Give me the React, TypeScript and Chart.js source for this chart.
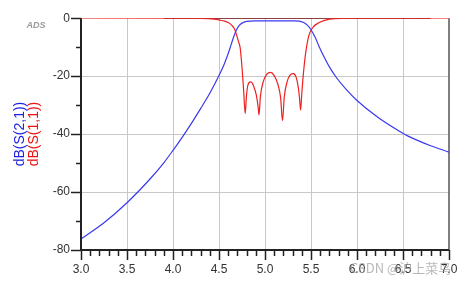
import React, { useEffect, useRef } from "react";
import { Chart, registerables } from "chart.js";

Chart.register(...registerables);

// S(1,1) in dB (red)
const s11Freq = [3.0, 4.3, 4.45, 4.5, 4.56, 4.6, 4.64, 4.67, 4.71, 4.73, 4.75, 4.768, 4.785, 4.798, 4.815, 4.845, 4.875, 4.905, 4.925, 4.935, 4.95, 4.98, 5.02, 5.06, 5.1, 5.14, 5.17, 5.19, 5.21, 5.24, 5.28, 5.31, 5.34, 5.36, 5.375, 5.387, 5.40, 5.415, 5.44, 5.475, 5.52, 5.59, 5.7, 5.85, 7.0];
const s11dB = [0, -0.05, -0.3, -0.6, -1.0, -1.5, -2.5, -3.8, -7.9, -10.2, -17, -25, -32.9, -27, -23, -22, -23.3, -26.5, -30.5, -33.4, -27, -22, -19.3, -18.7, -19.8, -22.8, -27.5, -35.4, -27, -22, -19.4, -19.1, -20.5, -23.5, -27.5, -31.7, -26, -20, -12.5, -6.2, -3.2, -1.5, -0.35, -0.05, 0];

// S(2,1) in dB (blue)
const s21Freq = [3.0, 3.25, 3.5, 3.75, 3.9, 4.0, 4.1, 4.2, 4.3, 4.4, 4.5, 4.56, 4.6, 4.63, 4.66, 4.69, 4.72, 4.75, 4.8, 4.9, 5.1, 5.3, 5.37, 5.42, 5.46, 5.5, 5.545, 5.59, 5.64, 5.7, 5.77, 5.88, 6.0, 6.23, 6.47, 6.55, 6.8, 7.0];
const s21dB = [-76.2, -70.6, -63.7, -55.5, -49.9, -45.6, -41.1, -36.3, -31.2, -25.9, -19.8, -15.6, -12.2, -9.3, -6.4, -4.0, -2.5, -1.7, -1.1, -0.9, -0.9, -0.95, -1.0, -1.5, -2.4, -4.0, -6.6, -9.9, -13.2, -16.8, -20.2, -24.5, -28.4, -34.3, -39.2, -40.6, -44, -46.2];

// dark reference trace along 0 dB
const refFreq = [3.9, 6.8];
const refdB = [0, 0];

const xTicks = ["3.0", "3.5", "4.0", "4.5", "5.0", "5.5", "6.0", "6.5", "7.0"];
const yTicks = [0, -20, -40, -60, -80];

const FONT = "'Liberation Sans', Arial, sans-serif";

const decor = {
  id: "decor",
  beforeDatasetsDraw(chart: any) {
    const { ctx, chartArea: a } = chart;
    ctx.save();
    ctx.strokeStyle = "#555";
    ctx.lineWidth = 1.5;
    ctx.beginPath();
    ctx.moveTo(a.right, a.top);
    ctx.lineTo(a.right, a.bottom);
    ctx.stroke();
    ctx.restore();
  },
  afterDraw(chart: any) {
    const { ctx, chartArea: a, scales } = chart;
    const x = scales.x;
    const y = scales.y;
    ctx.save();
    ctx.strokeStyle = "#222";
    ctx.lineWidth = 2;
    ctx.beginPath();
    ctx.moveTo(a.left, a.top);
    ctx.lineTo(a.left, a.bottom);
    ctx.lineTo(a.right, a.bottom);
    ctx.stroke();
    ctx.lineWidth = 1.5;
    for (let i = 0; i <= 40; i++) {
      const v = 3 + i * 0.1;
      const px = Math.round(x.getPixelForValue(v)) + 0.5;
      const major = i % 5 === 0;
      ctx.beginPath();
      ctx.moveTo(px, a.bottom);
      ctx.lineTo(px, a.bottom + (major ? 10 : 6));
      ctx.stroke();
    }
    for (let i = 0; i <= 8; i++) {
      const v = -i * 10;
      const py = Math.round(y.getPixelForValue(v)) + 0.5;
      const major = i % 2 === 0;
      ctx.beginPath();
      ctx.moveTo(a.left, py);
      ctx.lineTo(a.left - (major ? 10 : 5), py);
      ctx.stroke();
    }
    ctx.font = `14px ${FONT}`;
    ctx.textAlign = "center";
    ctx.textBaseline = "middle";
    ctx.save();
    ctx.translate(20, 134);
    ctx.rotate(-Math.PI / 2);
    ctx.fillStyle = "#2020e0";
    ctx.fillText("dB(S(2,1))", 0, 0);
    ctx.restore();
    ctx.save();
    ctx.translate(34, 134);
    ctx.rotate(-Math.PI / 2);
    ctx.fillStyle = "#f01010";
    ctx.fillText("dB(S(1,1))", 0, 0);
    ctx.restore();
    ctx.font = `italic bold 9px ${FONT}`;
    ctx.fillStyle = "#9a9a9a";
    ctx.fillText("ADS", 36, 26);
    ctx.font = `13px 'Noto Sans CJK SC', ${FONT}`;
    ctx.fillStyle = "rgba(160,160,160,0.75)";
    ctx.textAlign = "left";
    ctx.fillText("CSDN @沪上菜鸟", 350, 268);
    ctx.restore();
  },
};

export default function App() {
  const ref = useRef<HTMLCanvasElement>(null);
  useEffect(() => {
    if (!ref.current) return;
    const toPts = (xs: number[], ys: number[]) => xs.map((v, i) => ({ x: v, y: ys[i] }));
    const chart = new Chart(ref.current, {
      type: "line",
      data: {
        datasets: [
          {
            label: "dB(S(2,1))",
            data: toPts(s21Freq, s21dB),
            borderColor: "#3a3af0",
            borderWidth: 1.2,
            pointRadius: 0,
            cubicInterpolationMode: "monotone",
          },
          {
            label: "dB(S(1,1))",
            data: toPts(s11Freq, s11dB),
            borderColor: "#f02020",
            borderWidth: 1.2,
            pointRadius: 0,
            cubicInterpolationMode: "monotone",
          },
          {
            label: "ref",
            data: toPts(refFreq, refdB),
            borderColor: "#6a0000",
            borderWidth: 1.6,
            pointRadius: 0,
          },
        ],
      },
      options: {
        animation: false,
        responsive: false,
        devicePixelRatio: 1,
        layout: { padding: { top: 18, right: 25, left: 0, bottom: 0 } },
        plugins: { legend: { display: false }, tooltip: { enabled: false } },
        scales: {
          x: {
            type: "linear",
            min: 3,
            max: 7,
            afterFit: (s: any) => { s.height = 31; },
            afterBuildTicks: (s: any) => { s.ticks = xTicks.map((t) => ({ value: parseFloat(t) })); },
            ticks: {
              callback: (v: any) => Number(v).toFixed(1),
              color: "#333",
              padding: 12,
              maxRotation: 0,
              font: { family: FONT, size: 12 },
            },
            grid: {
              drawTicks: false,
              color: (c: any) => (c.tick && (c.tick.value === 3 || c.tick.value === 7) ? "rgba(0,0,0,0)" : "#c8c8c8"),
              lineWidth: 1,
            },
            border: { display: false },
          },
          y: {
            type: "linear",
            min: -80,
            max: 0,
            afterFit: (s: any) => { s.width = 81; },
            afterBuildTicks: (s: any) => { s.ticks = yTicks.map((t) => ({ value: t })); },
            ticks: {
              color: "#333",
              padding: 11,
              font: { family: FONT, size: 12 },
            },
            grid: {
              drawTicks: false,
              color: (c: any) => (c.tick && (c.tick.value === 0 || c.tick.value === -80) ? "rgba(0,0,0,0)" : "#c8c8c8"),
              lineWidth: 1,
            },
            border: { display: false },
          },
        },
      },
      plugins: [decor],
    });
    return () => chart.destroy();
  }, []);
  return (
    <div style={{ position: "absolute", left: 0, top: 0, width: 474, height: 281, background: "#fff" }}>
      <canvas ref={ref} width={474} height={281} style={{ width: 474, height: 281 }} />
    </div>
  );
}
